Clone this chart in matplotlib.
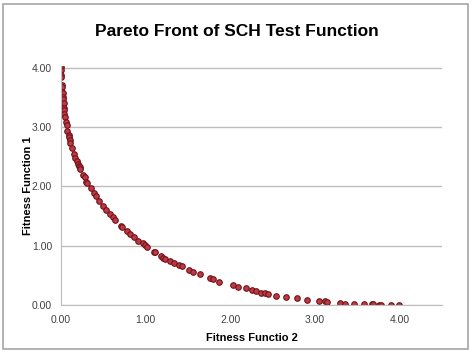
import matplotlib
matplotlib.use('Agg')
import matplotlib.pyplot as plt
from matplotlib.patches import Rectangle

plt.rcParams['font.family'] = ['Liberation Sans', 'DejaVu Sans']

# Pareto front points (f2, f1)
f2 = [0.00, 0.00, 0.00, 0.00, 0.01, 0.01, 0.01, 0.02, 0.02, 0.02,
      0.03, 0.03, 0.04, 0.04, 0.05, 0.06, 0.07, 0.07, 0.09, 0.10,
      0.11, 0.11, 0.13, 0.15, 0.17, 0.19, 0.20, 0.21, 0.22, 0.23,
      0.26, 0.28, 0.30, 0.31, 0.35, 0.39, 0.41, 0.45, 0.50, 0.53,
      0.58, 0.61, 0.64, 0.71, 0.72, 0.78, 0.82, 0.86, 0.91, 0.97,
      0.99, 1.01, 1.10, 1.11, 1.18, 1.21, 1.23, 1.29, 1.33, 1.39,
      1.43, 1.51, 1.56, 1.64, 1.76, 1.79, 1.87, 2.03, 2.09, 2.18,
      2.26, 2.30, 2.36, 2.41, 2.44, 2.54, 2.66, 2.79, 2.91, 3.05,
      3.12, 3.14, 3.29, 3.35, 3.46, 3.58, 3.67, 3.69, 3.76, 3.78,
      3.90, 3.99]
f1 = [4.01, 3.97, 3.88, 3.85, 3.71, 3.68, 3.59, 3.57, 3.50, 3.47,
      3.40, 3.32, 3.28, 3.22, 3.17, 3.09, 3.04, 2.94, 2.87, 2.83,
      2.78, 2.74, 2.64, 2.54, 2.48, 2.42, 2.37, 2.34, 2.32, 2.29,
      2.19, 2.15, 2.08, 2.05, 1.98, 1.89, 1.84, 1.76, 1.67, 1.60,
      1.53, 1.49, 1.44, 1.34, 1.32, 1.24, 1.20, 1.14, 1.08, 1.04,
      1.01, 0.98, 0.90, 0.89, 0.83, 0.80, 0.78, 0.75, 0.71, 0.67,
      0.65, 0.59, 0.56, 0.52, 0.45, 0.43, 0.39, 0.33, 0.31, 0.28,
      0.25, 0.24, 0.21, 0.20, 0.19, 0.16, 0.13, 0.11, 0.08, 0.06,
      0.06, 0.05, 0.03, 0.02, 0.01, 0.01, 0.01, 0.01, 0.00, 0.00,
      0.00, 0.00]

xticks = [0, 1, 2, 3, 4]
yticks = [0, 1, 2, 3, 4]

fig = plt.figure(figsize=(4.74, 3.52), dpi=100)
fig.patches.append(Rectangle((3 / 474, 3 / 352), 465 / 474, 345 / 352,
                             transform=fig.transFigure, fill=False,
                             edgecolor='#a6a6a6', linewidth=1.2))

ax = fig.add_axes([61 / 474, 47 / 352, 381 / 474, 239 / 352])
ax.set_xlim(0, 4.5)
ax.set_ylim(0, 4.03)
ax.set_xticks(xticks)
ax.set_yticks(yticks)
ax.set_xticklabels(['%.2f' % v for v in xticks])
ax.set_yticklabels(['%.2f' % v for v in yticks])
ax.tick_params(length=0, labelsize=7.5, labelcolor='#404040', pad=7)
ax.tick_params(axis='y', pad=6.5)
ax.yaxis.grid(True, color='#bdbdbd', linewidth=1)
ax.set_axisbelow(True)
for s in ['top', 'right']:
    ax.spines[s].set_visible(False)
ax.spines['left'].set_color('#bdbdbd')
ax.spines['bottom'].set_color('#bdbdbd')

ax.plot(f2, f1, 'o', markersize=4, markerfacecolor='#bd3a44',
        markeredgecolor='#701219', markeredgewidth=0.8, linestyle='none')

ax.set_xlabel('Fitness Functio 2', fontsize=8, fontweight='bold', labelpad=6)
ax.set_ylabel('Fitness Function 1', fontsize=8, fontweight='bold')
ax.yaxis.set_label_coords(-0.073, 0.5)
fig.text(0.5, 1 - 31 / 352, 'Pareto Front of SCH Test Function',
         ha='center', va='center', fontsize=12.5, fontweight='bold')

fig.savefig('out.png', dpi=100)
